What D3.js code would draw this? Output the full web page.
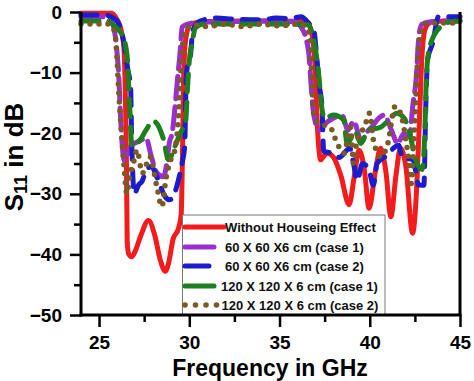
<!DOCTYPE html>
<html><head><meta charset="utf-8">
<script src="https://cdn.jsdelivr.net/npm/d3@7"></script>
<style>
html,body{margin:0;padding:0;background:#fff;}
svg{display:block;font-family:"Liberation Sans",Arial,sans-serif;}
</style></head>
<body>
<svg id="chart" width="474" height="381"></svg>
<script>
// ---- data ----
const xMajorTicks = [25, 30, 35, 40, 45];
const xMinorTicks = [27.5, 32.5, 37.5, 42.5];
const yMajorTicks = [0, -10, -20, -30, -40, -50];
const yMinorTicks = [-5, -15, -25, -35, -45];

const seriesNames = [
  "Without Houseing Effect",
  "60 X 60 X6 cm (case 1)",
  "60 X 60 X6 cm (case 2)",
  "120 X 120 X 6 cm (case 1)",
  "120 X 120 X 6 cm (case 2)"
];
const seriesColors = ["#f31b1b", "#9a2fd0", "#1c1ccf", "#1d7f1d", "#7a5b24"];

const noHousing = [[24,-0.2],[25.7,-0.2],[25.95,-1],[26.26,-3.5],[26.38,-6],[26.46,-14],[26.52,-25],[26.56,-38],[26.65,-40],[26.8,-40.4],[27.0,-39.5],[27.3,-37],[27.74,-34.4],[28.1,-37],[28.4,-41],[28.67,-42.8],[28.85,-41.5],[29.1,-37.5],[29.4,-35.7],[29.55,-33.5],[29.62,-24],[29.68,-12],[29.78,-5],[30.05,-2],[30.8,-1.6],[33,-1.5],[35,-1.5],[36.5,-1.6],[36.75,-3],[36.95,-8],[37.1,-19],[37.28,-24.4],[37.45,-23.8],[37.65,-23.3],[38.0,-24],[38.4,-27],[38.85,-31.8],[39.15,-27],[39.4,-22.8],[39.7,-26],[39.96,-32.4],[40.3,-26.5],[40.6,-22.5],[40.9,-26.5],[41.17,-33.8],[41.45,-27],[41.7,-22.5],[42.0,-25.5],[42.37,-36.5],[42.6,-29],[42.75,-18],[42.88,-8],[43.05,-3],[43.3,-1.8],[43.57,-1.6],[45,-1.4]];

const case60a = [[24,-0.8],[25.4,-0.8],[25.7,-1.5],[25.9,-4],[26.0,-6.8],[26.1,-11],[26.17,-16],[26.26,-21],[26.4,-24.5],[26.53,-23.9],[26.8,-22],[27.3,-21.2],[27.6,-20.8],[27.9,-23.9],[28.2,-26.5],[28.57,-27.2],[28.75,-25],[28.9,-21.5],[29.05,-20],[29.2,-16],[29.35,-11],[29.5,-6.3],[29.6,-2.5],[29.9,-2],[30.5,-1.7],[32,-1.6],[34,-1.5],[35.8,-1.6],[36.2,-2.5],[36.6,-6.3],[36.75,-12],[36.85,-15.9],[37.0,-18.4],[37.2,-19.5],[37.5,-18.5],[38.0,-17.5],[38.45,-17],[38.8,-19.5],[39.1,-18],[39.55,-21.4],[39.8,-20],[40.1,-19],[40.5,-17.5],[40.8,-17],[41.2,-19.5],[41.55,-21.7],[41.9,-20],[42.2,-20.6],[42.4,-15],[42.55,-11.7],[42.74,-3.5],[42.9,-2],[43.4,-1.6],[45,-1.5]];

const case60b = [[24,-0.5],[25.3,-0.5],[25.8,-1],[26.0,-1.5],[26.35,-4.6],[26.6,-9.6],[26.75,-12.3],[26.8,-20],[26.88,-27.5],[26.95,-30],[27.2,-28.5],[27.37,-28],[27.64,-26],[27.9,-25.5],[28.2,-27.2],[28.67,-30.5],[28.9,-31],[29.1,-30.5],[29.4,-27.7],[29.6,-25],[29.75,-22],[29.82,-11.7],[29.95,-8],[30.05,-7.4],[30.2,-3],[30.6,-1.5],[31.5,-1],[32.5,-1.2],[34,-1.3],[34.8,-1],[35.5,-1.1],[36.2,-0.8],[36.6,-1.8],[36.9,-3],[37.05,-7],[37.2,-12],[37.35,-15.6],[37.45,-23],[37.95,-23.3],[38.3,-24],[38.9,-22.5],[39.1,-25],[39.3,-27.8],[39.6,-25],[39.95,-26],[40.2,-28.6],[40.4,-25],[40.97,-23.6],[41.3,-22.5],[41.6,-22],[41.8,-24],[42.4,-24.4],[42.7,-28.5],[43.0,-28.6],[43.1,-16],[43.2,-8],[43.5,-5],[43.8,-0.8],[45,-0.8]];

const case120a = [[24,-1.5],[25.5,-1.5],[25.9,-2.5],[26.1,-3],[26.44,-5.1],[26.6,-9],[26.65,-13],[26.72,-17],[26.78,-21],[26.85,-22.2],[27.3,-21],[27.6,-19.5],[28.0,-18],[28.57,-21],[28.85,-24.4],[29.2,-22.2],[29.5,-20],[29.8,-18],[29.9,-12.6],[30.0,-8],[30.15,-5.2],[30.35,-2.6],[30.8,-2],[33,-2],[35,-2],[36.6,-2.1],[36.8,-3.5],[37.0,-6.3],[37.2,-11.2],[37.35,-16],[37.5,-17.5],[38.0,-17],[38.55,-17.8],[38.75,-21.7],[39.2,-19.8],[39.5,-21.7],[39.9,-19.5],[40.6,-19],[41.0,-18],[41.5,-16.7],[41.9,-17.5],[42.2,-19.8],[42.5,-24],[42.9,-26],[43.05,-20],[43.1,-14],[43.2,-8],[43.45,-4.6],[44.1,-2.1],[44.5,-1.6],[45,-1.5]];

const case120b = [[24,-2],[25.5,-2],[25.75,-2.5],[25.9,-4],[26.0,-8],[26.07,-12],[26.15,-16],[26.26,-20.5],[26.4,-26],[26.54,-30],[26.7,-27],[26.9,-25],[27.1,-22.8],[27.4,-26.6],[27.83,-23.9],[28.2,-28.8],[28.48,-32.1],[28.7,-27.7],[28.9,-25],[29.2,-22.8],[29.4,-17.3],[29.5,-11.8],[29.6,-6.3],[29.8,-3],[30.2,-2.1],[31,-2.4],[32,-2],[33,-2.4],[34,-2],[35,-2.3],[36,-2],[36.5,-2.5],[36.7,-4.6],[36.8,-12],[36.9,-17],[37.2,-18.4],[37.8,-19],[38.2,-21.7],[38.57,-23.3],[38.94,-19],[39.1,-25],[39.3,-21],[39.7,-19],[40,-16.7],[40.2,-21.1],[40.6,-23.9],[41.0,-21.7],[41.4,-15.6],[41.7,-16.7],[42,-21.1],[42.2,-25.5],[42.3,-28.3],[42.45,-21],[42.55,-14.5],[42.65,-8],[42.83,-3.5],[43.1,-1.9],[45,-1.8]];

const allSeries = [noHousing, case60a, case60b, case120a, case120b];

// ---- chart ----
const svg = d3.select("#chart");
const x = d3.scaleLinear().domain([24, 45]).range([81, 460]);
const y = d3.scaleLinear().domain([-50, 0]).range([315, 12]);

const styles = [
  {w:5, dash:null, cap:"round"},
  {w:5, dash:"22,8", cap:"round"},
  {w:5, dash:"16,11", cap:"round"},
  {w:5, dash:"18,10", cap:"round"},
  {w:5.5, dash:"0,9", cap:"round"}
];

const line = d3.line().x(d => x(d[0])).y(d => y(d[1])).curve(d3.curveMonotoneX);
const plot = svg.append("g");
allSeries.forEach((s, i) => {
  plot.append("path").datum(s)
    .attr("d", line)
    .attr("fill", "none")
    .attr("stroke", seriesColors[i])
    .attr("stroke-width", styles[i].w)
    .attr("stroke-linecap", styles[i].cap)
    .attr("stroke-linejoin", "round")
    .attr("stroke-dasharray", styles[i].dash);
});

// legend
const lg = svg.append("g");
lg.append("rect").attr("x", 182.5).attr("y", 215).attr("width", 202.5).attr("height", 100)
  .attr("fill", "#fff").attr("stroke", "#777").attr("stroke-width", 1);
const legRowY = [227, 247, 266, 286, 305];
const legTextX = [225, 225, 225, 221, 221.5];
const legLen = [39, 29, 24, 29, 0];
seriesNames.forEach((name, i) => {
  if (i < 4) {
    lg.append("line").attr("x1", 185).attr("x2", 185 + legLen[i])
      .attr("y1", legRowY[i]).attr("y2", legRowY[i])
      .attr("stroke", seriesColors[i]).attr("stroke-width", 5).attr("stroke-linecap", "round");
  } else {
    [185, 195.5, 206, 216.5].forEach(cx => {
      lg.append("circle").attr("cx", cx).attr("cy", legRowY[i]).attr("r", 2.8).attr("fill", seriesColors[i]);
    });
  }
  lg.append("text").attr("x", legTextX[i]).attr("y", legRowY[i] + 4.7)
    .attr("font-size", 13).attr("font-weight", "bold").attr("fill", "#111").text(name);
});

// axes
const axX = d3.axisBottom(x).tickValues(xMajorTicks).tickSize(12).tickPadding(9).tickFormat(d3.format("d"));
const gx = svg.append("g").attr("transform", "translate(0,315)").call(axX);
const axXm = d3.axisBottom(x).tickValues(xMinorTicks).tickSize(7).tickFormat("");
const gxm = svg.append("g").attr("transform", "translate(0,315)").call(axXm);
const axY = d3.axisLeft(y).tickValues(yMajorTicks).tickSize(11).tickPadding(8).tickFormat(d3.format("d"));
const gy = svg.append("g").attr("transform", "translate(81,0)").call(axY);
const axYm = d3.axisLeft(y).tickValues(yMinorTicks).tickSize(7).tickFormat("");
const gym = svg.append("g").attr("transform", "translate(81,0)").call(axYm);
[gx, gxm, gy, gym].forEach(g => {
  g.select(".domain").remove();
  g.selectAll(".tick line").attr("stroke", "#000").attr("stroke-width", 2.5);
  g.selectAll(".tick text").attr("font-size", 19).attr("font-weight", "bold")
    .attr("font-family", "'Liberation Sans', Arial, sans-serif").attr("fill", "#000");
});
// frame lines: left, bottom, right
svg.append("line").attr("x1", x(24)).attr("x2", x(24)).attr("y1", y(0)).attr("y2", y(-50) + 1.5)
  .attr("stroke", "#000").attr("stroke-width", 3);
svg.append("line").attr("x1", x(24) - 1.5).attr("x2", x(45) + 1.5).attr("y1", y(-50)).attr("y2", y(-50))
  .attr("stroke", "#000").attr("stroke-width", 3);
svg.append("line").attr("x1", x(45)).attr("x2", x(45)).attr("y1", y(0)).attr("y2", y(-50))
  .attr("stroke", "#000").attr("stroke-width", 3);

// axis titles
svg.append("text").attr("x", 270).attr("y", 375.5).attr("text-anchor", "middle")
  .attr("font-size", 23).attr("font-weight", "bold").attr("fill", "#000").text("Frequency in GHz");
const yt = svg.append("text").attr("transform", "translate(23,157) rotate(-90)")
  .attr("text-anchor", "middle").attr("font-size", 26).attr("font-weight", "bold").attr("fill", "#000");
yt.append("tspan").text("S");
yt.append("tspan").attr("font-size", 18).attr("dy", 4).text("11");
yt.append("tspan").attr("dy", -4).text(" in dB");
</script>
</body></html>
